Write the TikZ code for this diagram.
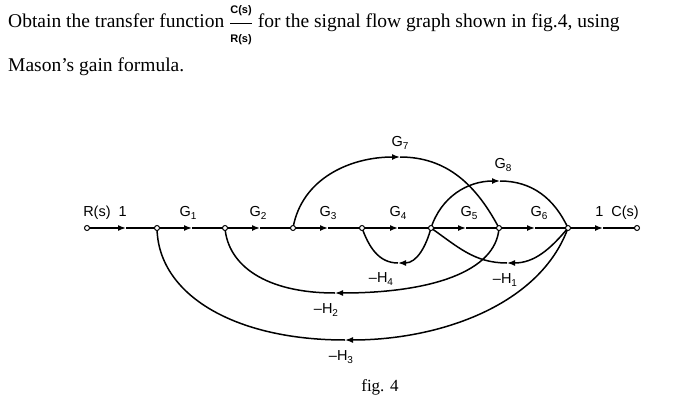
\documentclass[tikz,border=0pt]{standalone}
\usepackage{fontspec}
\setmainfont{Liberation Serif}
\setsansfont{Liberation Sans}
\usetikzlibrary{arrows.meta}
\newcommand{\sbs}[1]{\raisebox{-0.35ex}{\fontsize{10}{10}\selectfont #1}}
\newcommand{\fr}[1]{\mbox{\sffamily\bfseries\fontsize{11}{11}\selectfont #1}}
\begin{document}
\begin{tikzpicture}[x=1pt,y=-1pt,
  nd/.style={circle,draw,line width=1pt,inner sep=0pt,minimum size=5pt,fill=white},
  br/.style={line width=1.5pt},
  ar/.style={br,-{Latex[length=8pt,width=6pt]}},
  lb/.style={font=\sffamily\fontsize{14.5}{15}\selectfont},
  tx/.style={font=\fontsize{19.5}{22}\selectfont,anchor=base west,inner sep=0pt}]
\useasboundingbox (0,0) rectangle (685,417);
\node[tx] (t1) at (8,28) {Obtain the transfer function $\displaystyle\frac{\fr{C(s)}}{\fr{R(s)}}$ for the signal flow graph shown in fig.4, using};
\node[tx] (t2) at (8,72) {Mason’s gain formula.};
\node[font=\fontsize{17}{18}\selectfont] (f4) at (380,387) {fig. 4};
\foreach \i/\x in {1/87,2/157,3/225,4/293,5/362,6/431,7/499,8/568,9/637}
  \coordinate (p\i) at (\x,228);
\foreach \a/\b/\m in {1/2/126,2/3/192,3/4/260,4/5/328,5/6/398,6/7/466,7/8/535,8/9/603}{
  \coordinate (m\a) at (\m,228);
  \draw[ar] (p\a) -- (m\a);
  \draw[br] (m\a) -- (p\b);
}
\coordinate (c7) at (400,157);
\draw[ar] (p4) to[out=80,in=180] (c7);
\draw[br] (c7) to[out=0,in=118] (p7);
\coordinate (c8) at (500,181);
\draw[ar] (p6) to[out=72,in=180] (c8);
\draw[br] (c8) to[out=0,in=115] (p8);
\coordinate (c4) at (398,263);
\draw[ar] (p6) to[out=-105,in=0] (c4);
\draw[br] (c4) to[out=180,in=-70] (p5);
\coordinate (c1) at (507,263);
\draw[ar] (p8) to[out=-130,in=0] (c1);
\draw[br] (c1) to[out=180,in=-35] (p6);
\coordinate (c2) at (335,293);
\draw[ar] (p7) .. controls (496,272) and (430,293) .. (c2);
\draw[br] (c2) .. controls (265,293) and (228,265) .. (p3);
\coordinate (c3) at (345,340);
\draw[ar] (p8) .. controls (540,305) and (440,340) .. (c3);
\draw[br] (c3) .. controls (235,340) and (158,295) .. (p2);
\foreach \i in {1,...,9} \node[nd] (n\i) at (p\i) {};
\node[lb] (lR) at (105,213) {R(s)\ \ 1};
\node[lb] (l1) at (188,213) {G\sbs{1}};
\node[lb] (l2) at (258,213) {G\sbs{2}};
\node[lb] (l3) at (328,213) {G\sbs{3}};
\node[lb] (l4) at (398,213) {G\sbs{4}};
\node[lb] (l5) at (469,213) {G\sbs{5}};
\node[lb] (l6) at (539,213) {G\sbs{6}};
\node[lb] (lC) at (617,213) {1\ \ C(s)};
\node[lb] (l7) at (400,143) {G\sbs{7}};
\node[lb] (l8) at (503,165) {G\sbs{8}};
\node[lb] (h4) at (381,279) {--H\sbs{4}};
\node[lb] (h1) at (505,280) {--H\sbs{1}};
\node[lb] (h2) at (326,310) {--H\sbs{2}};
\node[lb] (h3) at (341,357) {--H\sbs{3}};
\end{tikzpicture}
\end{document}
